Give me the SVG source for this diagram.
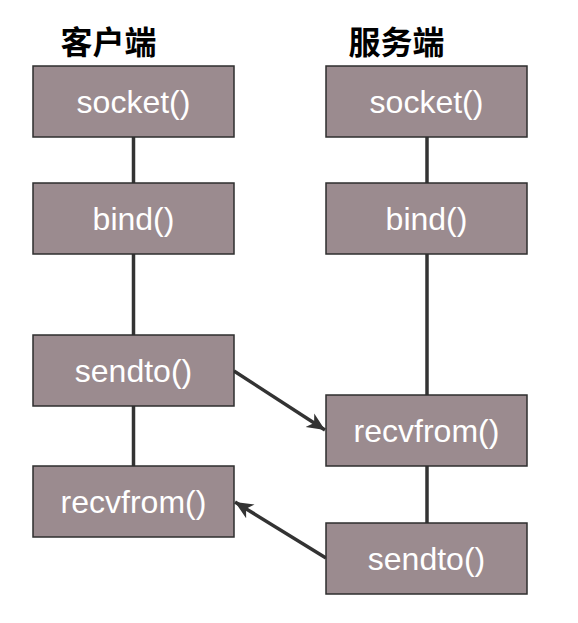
<svg xmlns="http://www.w3.org/2000/svg" width="578" height="623" viewBox="0 0 578 623">
<style>
.box{fill:#9b8b8f;stroke:#2e2e2e;stroke-width:1.5}
.lbl{font-family:"Liberation Sans",Arial,sans-serif;font-size:32px;fill:#ffffff;text-anchor:middle}
.ttl{font-family:"Noto Sans CJK SC",sans-serif;font-weight:bold;font-size:32px;fill:#000;text-anchor:middle}
.ln{stroke:#333;stroke-width:3.5;fill:none}
</style>
<defs>
<marker id="ah" markerUnits="userSpaceOnUse" markerWidth="20" markerHeight="18" refX="18" refY="9" orient="auto">
<path d="M0,1 L18,9 L0,17 L5,9 Z" fill="#333"/>
</marker>
</defs>
<rect width="578" height="623" fill="#fff"/>
<text class="ttl" x="108.5" y="54">客户端</text>
<text class="ttl" x="396.5" y="54">服务端</text>
<g id="connectors">
<line class="ln" x1="133.5" y1="137" x2="133.5" y2="183"/>
<line class="ln" x1="133.5" y1="254" x2="133.5" y2="335"/>
<line class="ln" x1="133.5" y1="406" x2="133.5" y2="466"/>
<line class="ln" x1="427" y1="137" x2="427" y2="183"/>
<line class="ln" x1="427" y1="254" x2="427" y2="395"/>
<line class="ln" x1="427" y1="466" x2="427" y2="523"/>
<line class="ln" x1="234" y1="371" x2="325" y2="430" marker-end="url(#ah)"/>
<line class="ln" x1="326" y1="558" x2="235" y2="502" marker-end="url(#ah)"/>
</g>
<g id="c_socket"><rect class="box" x="33" y="66" width="201" height="71"/><text class="lbl" x="133.5" y="113">socket()</text></g>
<g id="c_bind"><rect class="box" x="33" y="183" width="201" height="71"/><text class="lbl" x="133.5" y="230">bind()</text></g>
<g id="c_sendto"><rect class="box" x="33" y="335" width="201" height="71"/><text class="lbl" x="133.5" y="382">sendto()</text></g>
<g id="c_recvfrom"><rect class="box" x="33" y="466" width="201" height="71"/><text class="lbl" x="133.5" y="513">recvfrom()</text></g>
<g id="s_socket"><rect class="box" x="326" y="66" width="201" height="71"/><text class="lbl" x="426.5" y="113">socket()</text></g>
<g id="s_bind"><rect class="box" x="326" y="183" width="201" height="71"/><text class="lbl" x="426.5" y="230">bind()</text></g>
<g id="s_recvfrom"><rect class="box" x="326" y="395" width="201" height="71"/><text class="lbl" x="426.5" y="442">recvfrom()</text></g>
<g id="s_sendto"><rect class="box" x="326" y="523" width="201" height="71"/><text class="lbl" x="426.5" y="570">sendto()</text></g>
</svg>
